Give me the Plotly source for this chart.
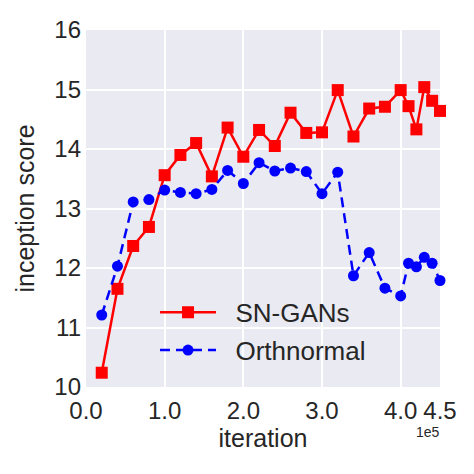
import plotly.graph_objects as go

# iteration (x 1e5) and inception scores
iters = [0.2, 0.4, 0.6, 0.8, 1.0, 1.2, 1.4, 1.6, 1.8, 2.0, 2.2, 2.4, 2.6,
         2.8, 3.0, 3.2, 3.4, 3.6, 3.8, 4.0, 4.1, 4.2, 4.3, 4.4, 4.5]
sn_gans = [10.24, 11.65, 12.37, 12.69, 13.56, 13.90, 14.10, 13.54, 14.36,
           13.87, 14.32, 14.05, 14.61, 14.27, 14.28, 14.99, 14.21, 14.68,
           14.71, 14.99, 14.72, 14.33, 15.04, 14.81, 14.64]
orthnormal = [11.21, 12.03, 13.11, 13.15, 13.31, 13.27, 13.25, 13.32, 13.64,
              13.42, 13.77, 13.63, 13.68, 13.62, 13.25, 13.61, 11.87, 12.26,
              11.66, 11.53, 12.08, 12.02, 12.18, 12.08, 11.79]
x_ticks = [0.0, 1.0, 2.0, 3.0, 4.0, 4.5]
x_tick_text = ["0.0", "1.0", "2.0", "3.0", "4.0", "4.5"]
y_ticks = [10, 11, 12, 13, 14, 15, 16]

ink = "#262626"
font = "Liberation Sans, Arial, sans-serif"
pad = "\u00a0\u00a0"  # gap between legend line and its text

fig = go.Figure()
fig.add_trace(go.Scatter(
    x=[v * 1e5 for v in iters], y=sn_gans, name=pad + "SN-GANs", legendgroup="a",
    mode="lines+markers", line=dict(color="red", width=2.5),
    marker=dict(symbol="square", size=12, color="red"),
    cliponaxis=False,
))
fig.add_trace(go.Scatter(
    x=[v * 1e5 for v in iters], y=orthnormal, name=pad + "Orthnormal", legendgroup="b",
    mode="lines+markers", line=dict(color="blue", width=2.5, dash="10px,6px"),
    marker=dict(symbol="circle", size=11, color="blue"),
    cliponaxis=False,
))

# the page body adds 8px on the left/top, so margins are shifted by that
fig.update_layout(
    width=474, height=474,
    margin=dict(l=78, r=42, t=22, b=95, autoexpand=False),
    paper_bgcolor="white", plot_bgcolor="#EAEAF2",
    font=dict(family=font, size=24, color=ink),
    legend=dict(x=0.195, y=0.275, xanchor="left", yanchor="top",
                bgcolor="rgba(0,0,0,0)", font=dict(size=26, color=ink),
                itemwidth=56, tracegroupgap=1),
    xaxis=dict(
        range=[0, 4.5e5], tickvals=[v * 1e5 for v in x_ticks],
        ticktext=x_tick_text, showgrid=True, gridcolor="white", gridwidth=1.8,
        zeroline=False, showline=False, ticks="", automargin=False,
        ticklabelstandoff=7,
        title=dict(text="iteration", font=dict(size=25), standoff=2),
    ),
    yaxis=dict(
        range=[10, 16], tickvals=y_ticks, showgrid=True, gridcolor="white",
        gridwidth=1.8, zeroline=False, showline=False, ticks="", automargin=False,
        ticklabelstandoff=4,
        title=dict(text="inception score", font=dict(size=25), standoff=12),
    ),
    annotations=[dict(text="1e5", x=1.006, y=-0.126, xref="paper", yref="paper",
                      xanchor="right", yanchor="middle", showarrow=False,
                      font=dict(size=14, color=ink))],
)

fig.write_html("out.html")
